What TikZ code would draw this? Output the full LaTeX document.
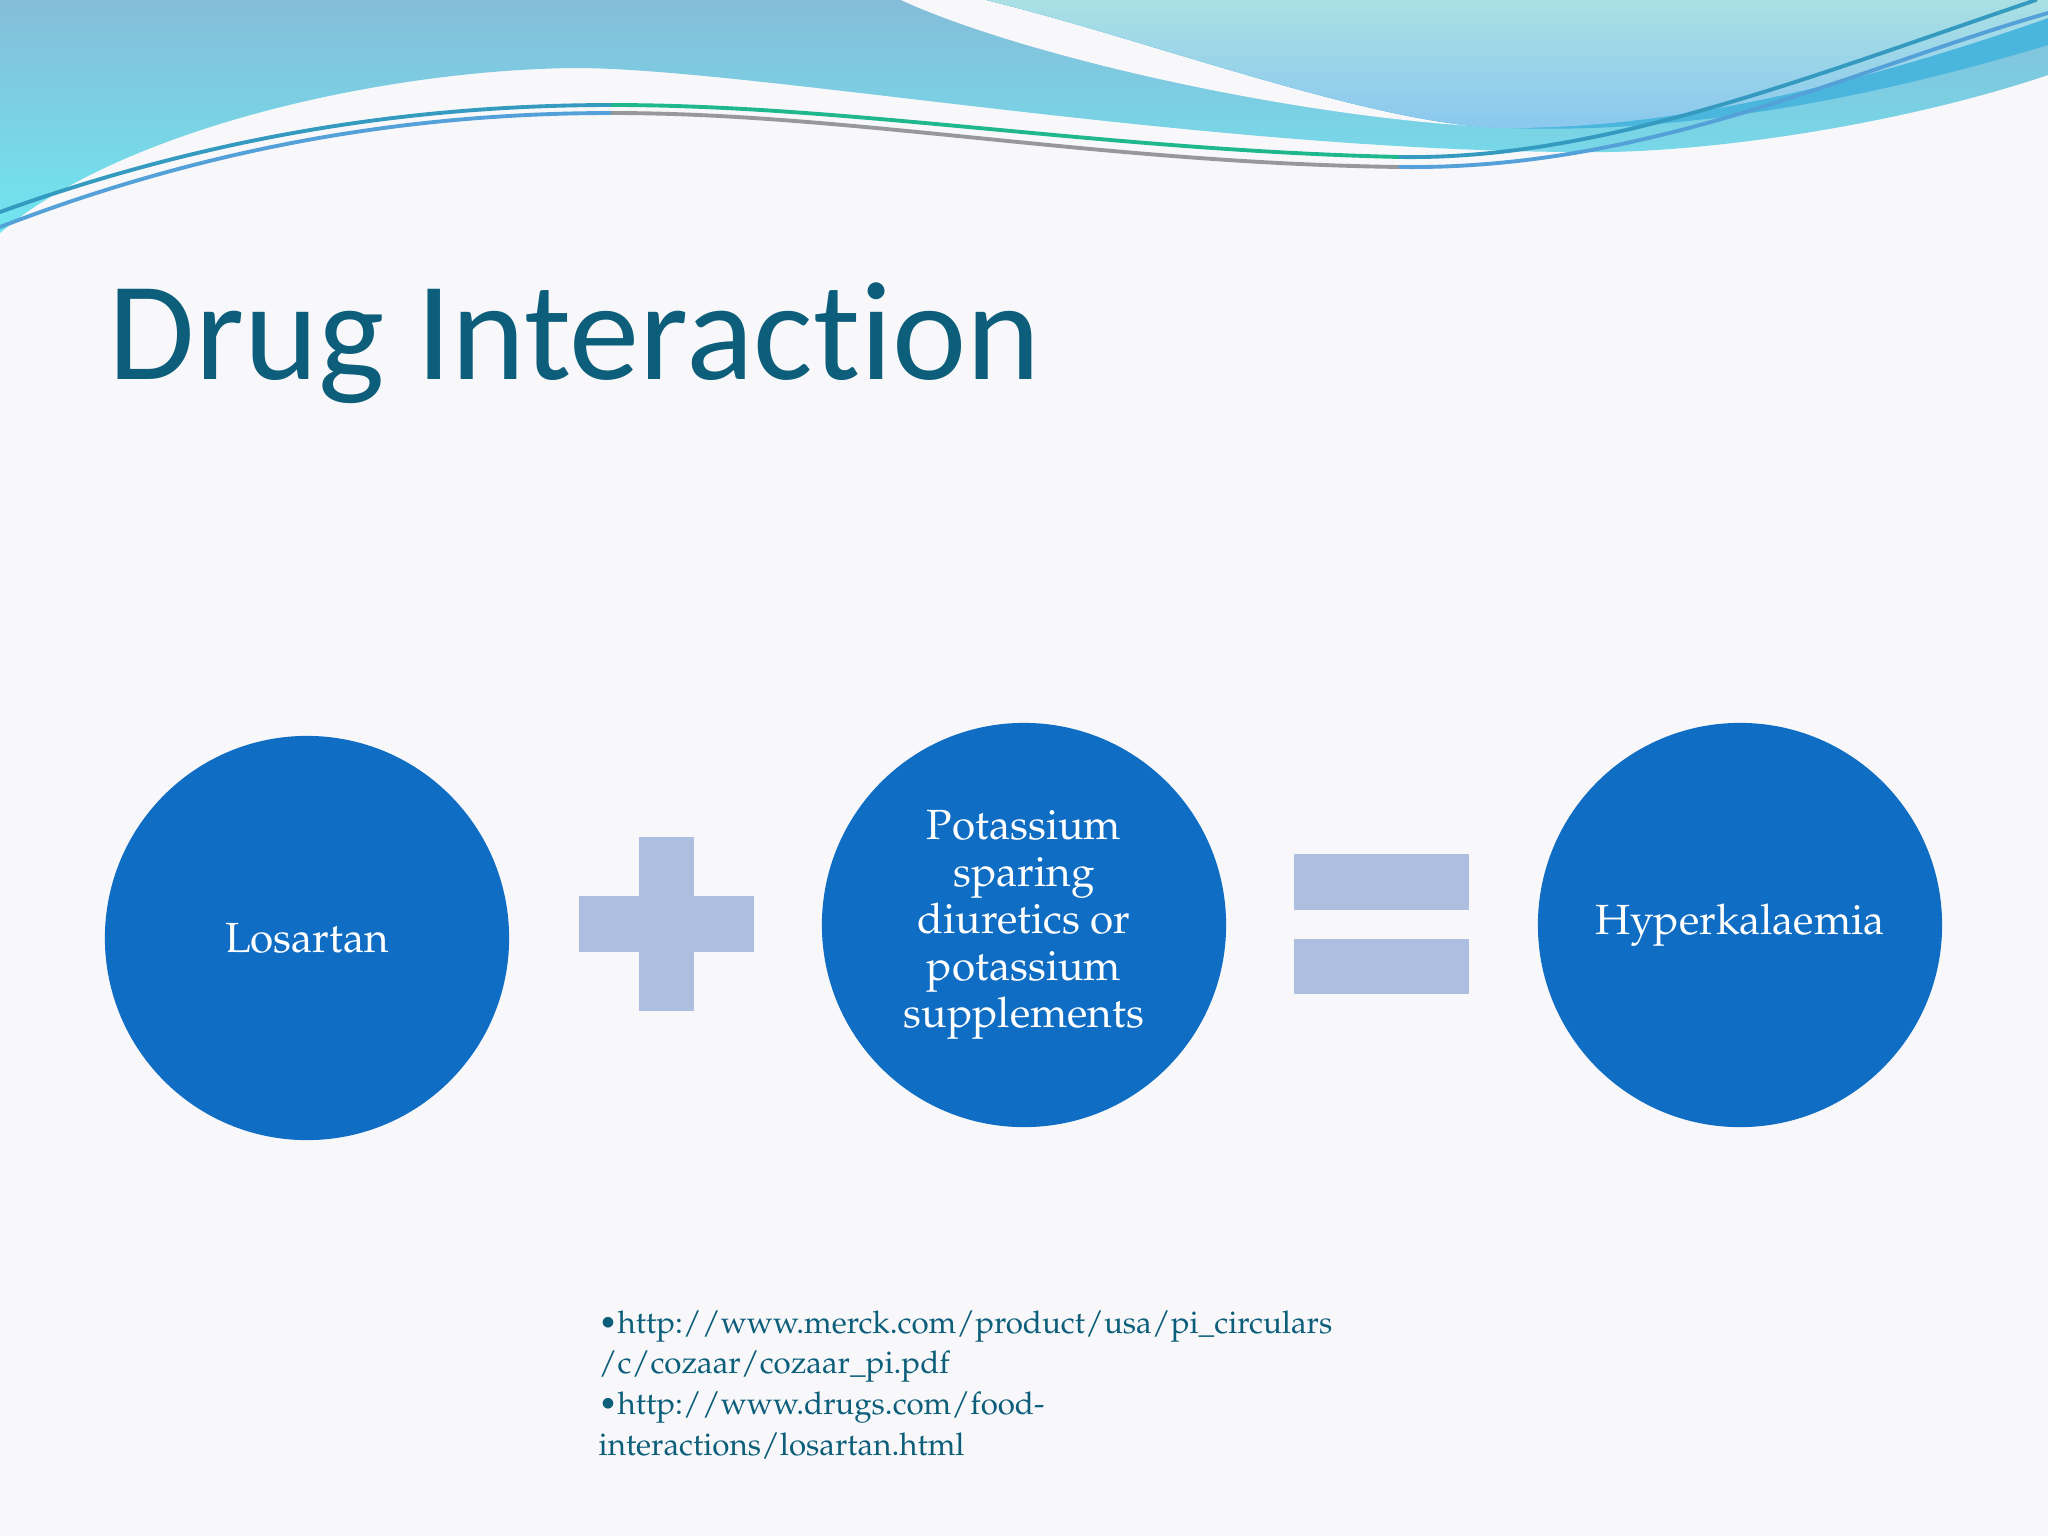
\documentclass[tikz,border=0pt]{standalone}
\usepackage[T1]{fontenc}
\usepackage{fontspec}
\usepackage{xcolor}
\usetikzlibrary{positioning}
\newfontfamily\titlefont[Ligatures=NoCommon]{Carlito}
\newcommand{\bookfont}{\fontencoding{T1}\fontfamily{ppl}\selectfont}
\definecolor{paper}{RGB}{248,248,250}
\definecolor{petrol}{RGB}{12,94,122}
\definecolor{disc}{RGB}{16,109,196}
\definecolor{signblue}{RGB}{174,190,224}
\definecolor{skytop}{RGB}{133,189,217}
\definecolor{skycyan}{RGB}{112,230,240}
\definecolor{paletop}{RGB}{170,224,228}
\definecolor{palelow}{RGB}{138,200,238}
\definecolor{bandblue}{RGB}{74,182,222}
\definecolor{linegreen}{RGB}{30,184,140}
\definecolor{lineteal}{RGB}{52,154,192}
\definecolor{lineblue}{RGB}{84,160,216}
\definecolor{linegrey}{RGB}{150,152,156}

\begin{document}
\begin{tikzpicture}[x=0.01cm, y=-0.01cm,
    disc/.style={circle, fill=disc, text=white, minimum size=4.04cm, inner sep=0pt,
                 align=center, font=\bookfont\fontsize{12}{13.4}\selectfont},
    sign/.style={fill=signblue},
    wave/.style={line width=1.1pt, line cap=round},
    src/.style={text=petrol, align=left, inner sep=0pt,
                font=\bookfont\fontsize{8.9}{11.55}\selectfont}
  ]
  \useasboundingbox (0,0) rectangle (2048,1536);
  \fill[paper] (0,0) rectangle (2048,1536);

  % header waves
  \shade[top color=skytop, bottom color=skycyan] (0,0) -- (2048,0) -- (2048,75)
    .. controls (1900,125) and (1700,155) .. (1573,152)
    .. controls (1200,150) and (750,68) .. (575,68)
    .. controls (380,70) and (120,130) .. (0,233) -- cycle;
  \fill[paper] (901,0) -- (986,0) .. controls (1150,40) and (1380,128) .. (1510,128)
    .. controls (1300,120) and (1020,55) .. (901,0) -- cycle;
  \fill[bandblue] (986,0) -- (2048,0) -- (2048,45)
    .. controls (1900,90) and (1700,135) .. (1510,128)
    .. controls (1380,128) and (1150,40) .. (986,0) -- cycle;
  \shade[top color=paletop, bottom color=palelow] (986,0) -- (2048,0) -- (2048,18)
    .. controls (1900,70) and (1700,128) .. (1510,128)
    .. controls (1380,128) and (1150,40) .. (986,0) -- cycle;

  \draw[wave, lineteal] (0,212) .. controls (200,140) and (400,105) .. (612,105);
  \draw[wave, linegreen] (612,105) .. controls (850,105) and (1100,150) .. (1400,157);
  \draw[wave, lineteal] (1400,157) .. controls (1600,160) and (1800,80) .. (2036,0);
  \draw[wave, lineblue] (0,227) .. controls (200,150) and (400,113) .. (612,113);
  \draw[wave, linegrey] (612,113) .. controls (850,113) and (1100,163) .. (1400,167);
  \draw[wave, lineblue] (1400,167) .. controls (1650,170) and (1850,70) .. (2048,13);

  \node[anchor=base west, inner sep=0pt, text=petrol,
        font=\titlefont\fontsize{40}{48}\selectfont] (title) at (108,379) {Drug Interaction};

  \node[disc] (losartan) at (307,938) {Losartan};
  \node[disc] (potassium) at (1024,925) {Potassium\\sparing\\diuretics or\\potassium\\supplements};
  \node[disc] (hyper) at (1740,925) {Hyperkalaemia};

  % plus and equals
  \fill[sign] (639,837) rectangle (694,1011);
  \fill[sign] (579,896) rectangle (754,952);
  \fill[sign] (1294,854) rectangle (1469,910);
  \fill[sign] (1294,939) rectangle (1469,994);

  \node[src, anchor=north west] (refs) at (598,1310)
    {\textbullet http://www.merck.com/product/usa/pi\_circulars\\
     /c/cozaar/cozaar\_pi.pdf\\
     \textbullet http://www.drugs.com/food-\\
     interactions/losartan.html};
\end{tikzpicture}
\end{document}
